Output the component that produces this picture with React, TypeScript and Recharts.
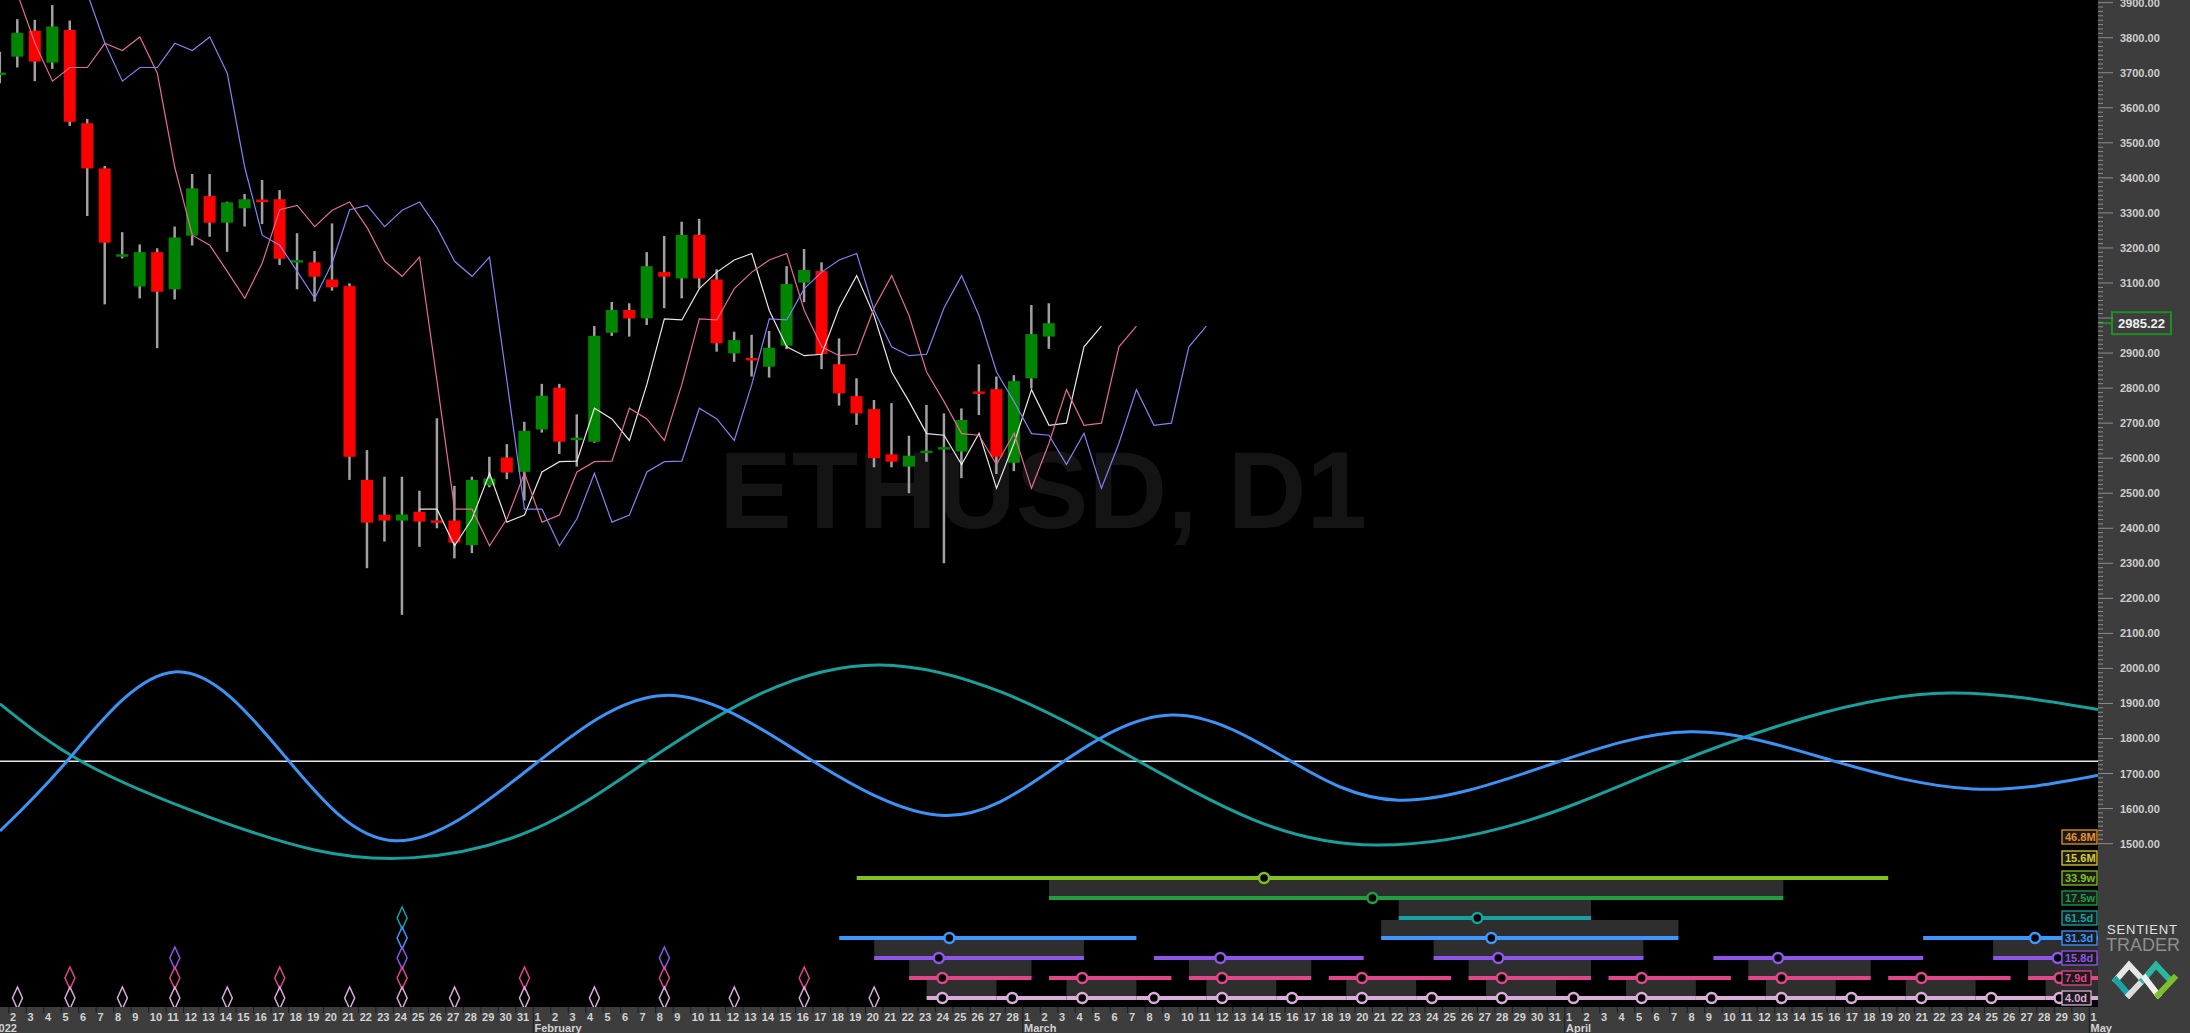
import React from "react";
import {
  Bar,
  ComposedChart,
  Line,
  ReferenceArea,
  ReferenceDot,
  ReferenceLine,
  Scatter,
  XAxis,
  YAxis,
} from "recharts";

const WIDTH = 2190;
const HEIGHT = 1033;
const AXIS_W = 92;
const AXIS_H = 26;
const PLOT_W = WIDTH - AXIS_W;
const PLOT_H = HEIGHT - AXIS_H;
const PRICE_TOP = 3907.6;
const PRICE_BOTTOM = 1033.7;
const LAST_DAY = 120;
const PANEL = "#3d3d3d";
const FONT = "'Liberation Sans', Arial, sans-serif";

// day 0 = 1 January 2022
const START = Date.UTC(2022, 0, 1);
const MONTH_NAMES = ["January", "February", "March", "April", "May", "June"];

// ETHUSD daily candles, 1 Jan .. 2 Mar 2022
const opens = [3694, 3746, 3820, 3729, 3822, 3556, 3427, 3177, 3090, 3188, 3082, 3235, 3348, 3272, 3313, 3336, 3339, 3160, 3159, 3110,
  3091, 2538, 2438, 2422, 2447, 2421, 2422, 2352, 2523, 2602, 2561, 2682, 2801, 2653, 2647, 2958, 3023, 2999, 3131, 3113,
  3237, 3110, 2899, 2885, 2861, 2921, 3101, 3134, 2868, 2777, 2740, 2611, 2576, 2616, 2626, 2619, 2789, 2797, 2587, 2828, 2947];
const highs = [3760, 3853, 3851, 3893, 3849, 3568, 3434, 3245, 3210, 3199, 3261, 3411, 3411, 3332, 3354, 3394, 3365, 3242, 3191, 3270,
  3099, 2623, 2547, 2547, 2507, 2714, 2521, 2547, 2604, 2640, 2704, 2812, 2812, 2725, 2977, 3046, 3042, 3188, 3234, 3275,
  3283, 3139, 2961, 2952, 2963, 3148, 3197, 3159, 2942, 2828, 2766, 2757, 2664, 2752, 2728, 2742, 2868, 2833, 2837, 3037, 3042];
const lows = [3670, 3715, 3676, 3711, 3548, 3291, 3039, 3170, 3056, 2914, 3053, 3207, 3232, 3189, 3261, 3268, 3151, 3082, 3047, 3078,
  2538, 2286, 2362, 2153, 2347, 2400, 2314, 2329, 2517, 2540, 2479, 2673, 2612, 2576, 2644, 2949, 2947, 2980, 3028, 3056,
  3085, 2904, 2875, 2833, 2830, 2911, 3045, 2854, 2750, 2695, 2574, 2574, 2500, 2590, 2300, 2543, 2723, 2555, 2563, 2799, 2912];
const closes = [3700, 3814, 3732, 3832, 3560, 3427, 3215, 3180, 3188, 3075, 3230, 3370, 3272, 3330, 3339, 3333, 3169, 3163, 3118, 3088,
  2604, 2416, 2422, 2439, 2419, 2417, 2359, 2538, 2542, 2559, 2678, 2778, 2647, 2657, 2949, 3023, 2999, 3148, 3118, 3237,
  3113, 2928, 2937, 2880, 2915, 3097, 3137, 2897, 2785, 2728, 2600, 2590, 2607, 2620, 2630, 2709, 2785, 2604, 2820, 2954, 2985.22];
// median price of 23..31 Dec 2021, used by the displaced lines
const priorMedians = [4040, 4060, 4070, 4050, 4020, 3925, 3784, 3676, 3715];

// displaced median lines: shift in days, first day drawn
const fldShifts = [3, 5, 9];
const fldStarts = [24, 0, 0];
const fldColors = ["#ece4ec", "#e46c90", "#8282f2"];

// composite cycle waves
const blueWaveDays = [0, 4, 10, 16.3, 22.6, 30.3, 38, 46, 54, 60.5, 67, 73.5, 80, 88.4, 96.7, 104.8, 112.8, 120];
const blueWaveValues = [1536, 1745, 1990, 1749, 1508, 1715, 1923, 1751, 1580, 1723, 1867, 1745, 1624, 1721, 1819, 1737, 1656, 1695];
const tealWaveDays = [0, 5, 12, 18, 23.7, 30.5, 37, 43.6, 50.3, 57.4, 64.5, 71.6, 78.7, 87, 95, 103.3, 111.5, 120];
const tealWaveValues = [1899, 1725, 1575, 1482, 1460, 1540, 1735, 1930, 2010, 1930, 1753, 1570, 1496, 1560, 1713, 1860, 1930, 1883];
const levelLine = 1735;

// cycle phasing panel
const cycleNames = ["46.8M", "15.6M", "33.9w", "17.5w", "61.5d", "31.3d", "15.8d", "7.9d", "4.0d"];
const cycleColors = ["#e8902a", "#dccb2c", "#80c21f", "#1f9e42", "#14a3a3", "#3d97ff", "#8d55e8", "#e0468a", "#d9acd9"];
const cycleRows = [837, 858, 878, 898, 918, 938, 958, 978, 998];

// [from day, to day, trough day, shaded]
const phases: Record<string, number[][]> = {
  "33.9w": [[49, 108, 72.3, 0]],
  "17.5w": [[60, 102, 78.5, 1]],
  "61.5d": [[80, 91, 84.5, 1]],
  "31.3d": [[48, 65, 54.3, 0], [79, 96, 85.3, 1], [110, 120, 116.4, 0]],
  "15.8d": [[50, 62, 53.7, 1], [66, 78, 69.8, 0], [82, 94, 85.7, 1], [98, 110, 101.7, 0], [114, 126, 117.7, 1]],
  "7.9d": [[52, 59, 53.9, 1], [60, 67, 61.9, 0], [68, 75, 69.9, 1], [76, 83, 77.9, 0], [84, 91, 85.9, 1], [92, 99, 93.9, 0],
    [100, 107, 101.9, 1], [108, 115, 109.9, 0], [116, 123, 117.8, 1]],
  "4.0d": [[53, 57, 53.9, 1], [57, 61, 57.9, 0], [61, 65, 61.9, 1], [65, 69, 66, 0], [69, 73, 69.9, 1], [73, 77, 73.9, 0],
    [77, 81, 77.9, 1], [81, 85, 81.9, 0], [85, 89, 85.9, 1], [89, 93, 90, 0], [93, 97, 93.9, 1], [97, 101, 97.9, 0],
    [101, 105, 101.9, 1], [105, 109, 105.9, 0], [109, 113, 109.9, 1], [113, 117, 113.9, 0], [117, 121, 117.8, 1]],
};

// past troughs (diamonds)
const pastTroughs: Record<string, number[]> = {
  "4.0d": [1, 4, 7, 10, 13, 16, 20, 23, 26, 30, 34, 38, 42, 46, 50],
  "7.9d": [4, 10, 16, 23, 30, 38, 46],
  "15.8d": [10, 23, 38],
  "31.3d": [23],
  "61.5d": [23],
};

const candles = opens.map((open, i) => ({ day: i, open, high: highs[i], low: lows[i], close: closes[i] }));
const lastClose = closes[closes.length - 1];

const median = (k: number) => (k < 0 ? priorMedians[k + priorMedians.length] : (highs[k] + lows[k]) / 2);

const fldData = fldShifts.map((shift, i) => {
  const pts = [];
  for (let d = fldStarts[i]; d <= candles.length - 1 + shift; d++) pts.push({ day: d, value: median(d - shift) });
  return pts;
});

const blueWave = blueWaveDays.map((day, i) => ({ day, value: blueWaveValues[i] }));
const tealWave = tealWaveDays.map((day, i) => ({ day, value: tealWaveValues[i] }));

// pixel row of the phasing panel -> value on the price scale
const rowValue = (py: number) => PRICE_TOP - (py / PLOT_H) * (PRICE_TOP - PRICE_BOTTOM);

const dayTicks = Array.from({ length: LAST_DAY + 1 }, (_, i) => i);
const priceTicks: number[] = [];
for (let v = 1500; v <= 3900; v += 12.5) priceTicks.push(v);

const Candle = (props: any) => {
  const { x, y, width, height, payload } = props;
  if (!payload || y == null) return null;
  const { open, high, low, close } = payload;
  const cx = x + width / 2;
  const yHigh = Math.min(y, y + height);
  const yLow = Math.max(y, y + height);
  const k = high === low ? 0 : (yLow - yHigh) / (high - low);
  const yO = yHigh + (high - open) * k;
  const yC = yHigh + (high - close) * k;
  const up = close >= open;
  let top = Math.min(yO, yC);
  let h = Math.abs(yC - yO);
  if (h < 2.5) {
    top = (yO + yC) / 2 - 1.25;
    h = 2.5;
  }
  return (
    <g>
      <line x1={cx} x2={cx} y1={yHigh} y2={yLow} stroke="#a0a0a0" strokeWidth={2.5} />
      <rect x={cx - 6} y={top} width={12} height={h} fill={up ? "#008600" : "#ff0000"} />
    </g>
  );
};

const Diamond = (props: any) => {
  const { cx, cy, color } = props;
  if (cx == null) return null;
  return (
    <path
      d={`M${cx},${cy - 11} L${cx + 5},${cy} L${cx},${cy + 11} L${cx - 5},${cy} Z`}
      fill="none"
      stroke={color}
      strokeWidth={1.5}
    />
  );
};

const DateTick = (props: any) => {
  const { x, payload } = props;
  const day = payload.value as number;
  const date = new Date(START + day * 86400000);
  const dom = date.getUTCDate();
  const month = date.getUTCMonth();
  const monthLabel = dom === 1 ? (month === 0 ? String(date.getUTCFullYear()) : MONTH_NAMES[month]) : null;
  const tx = x - 8.7;
  return (
    <g>
      <line x1={tx} x2={tx} y1={PLOT_H} y2={monthLabel ? HEIGHT : PLOT_H + 6} stroke="#1c1c1c" strokeWidth={1} />
      <text x={x - 7.5} y={1021} fill="#d2d2d2" fontSize={11} fontWeight="bold" fontFamily={FONT}>
        {dom}
      </text>
      {monthLabel && (
        <text x={x - 7.5} y={1032} fill="#d2d2d2" fontSize={11} fontWeight="bold" fontFamily={FONT}>
          {monthLabel}
        </text>
      )}
    </g>
  );
};

const PriceTick = (props: any) => {
  const { y, payload } = props;
  const v = payload.value as number;
  const major = v % 100 === 0;
  // the current price tag covers the nearest label
  const covered = Math.abs(v - lastClose) < 40;
  return (
    <g>
      <line x1={PLOT_W} x2={PLOT_W + (major ? 15 : 5)} y1={y} y2={y} stroke="#8c8c8c" strokeWidth={1} />
      {major && !covered && (
        <text x={2120} y={y + 4} fill="#cfcfcf" fontSize={11} fontWeight="bold" fontFamily={FONT}>
          {v.toFixed(2)}
        </text>
      )}
    </g>
  );
};

const PriceTag = (props: any) => {
  const vb = props.viewBox;
  if (!vb) return null;
  const y = vb.y;
  const x0 = vb.x + vb.width;
  return (
    <g>
      <line x1={x0} x2={x0 + 14} y1={y} y2={y} stroke="#1f8f1f" strokeWidth={2} />
      <rect x={x0 + 14} y={y - 11} width={59} height={22} fill={PANEL} stroke="#1f8f1f" strokeWidth={2} />
      <text x={x0 + 43.5} y={y + 5} textAnchor="middle" fill="#f0f0f0" fontSize={13} fontWeight="bold" fontFamily={FONT}>
        {lastClose.toFixed(2)}
      </text>
    </g>
  );
};

const Logo = () => (
  <g>
    <text x={2107} y={934} fill="#e2e2e2" fontSize={13} letterSpacing={0.8} fontFamily={FONT}>
      SENTIENT
    </text>
    <text x={2106} y={951} fill="#8e8e8e" fontSize={18} fontFamily={FONT}>
      TRADER
    </text>
    <g strokeWidth={6} fill="none" strokeLinecap="square">
      <path d="M2116,980 L2129,965 L2143,980" stroke="#e6e6e6" />
      <path d="M2116,980 L2129,995" stroke="#1aa3a3" />
      <path d="M2129,995 L2145,978" stroke="#dcdcdc" />
      <path d="M2143,980 L2156,965 L2170,980" stroke="#2bb6a0" />
      <path d="M2145,978 L2158,995" stroke="#f0f0f0" />
      <path d="M2158,995 L2174,978" stroke="#7dc02a" />
    </g>
  </g>
);

export default function App() {
  return (
    <div style={{ position: "relative", width: WIDTH, height: HEIGHT, background: "#000", overflow: "hidden" }}>
      <style>{`html,body{margin:0;padding:0;background:#000;overflow:hidden}`}</style>
      <svg width={WIDTH} height={HEIGHT} style={{ position: "absolute", left: 0, top: 0 }}>
        <rect x={0} y={0} width={WIDTH} height={HEIGHT} fill="#000" />
        <rect x={PLOT_W} y={0} width={AXIS_W} height={HEIGHT} fill={PANEL} />
        <rect x={0} y={PLOT_H} width={WIDTH} height={AXIS_H} fill={PANEL} />
        <text x={719} y={528} fill="#141414" fontSize={109} fontWeight="bold" fontFamily={FONT}>
          ETHUSD, D1
        </text>
      </svg>
      <div style={{ position: "absolute", left: 0, top: 0 }}>
        <ComposedChart width={WIDTH} height={HEIGHT} data={candles} margin={{ top: 0, right: 0, bottom: 0, left: 0 }}>
          <XAxis
            dataKey="day"
            type="number"
            domain={[0, LAST_DAY]}
            allowDataOverflow
            ticks={dayTicks}
            interval={0}
            height={AXIS_H}
            axisLine={false}
            tickLine={false}
            tick={(p: any) => <DateTick {...p} />}
          />
          <YAxis
            orientation="right"
            type="number"
            width={AXIS_W}
            domain={[PRICE_BOTTOM, PRICE_TOP]}
            allowDataOverflow
            ticks={priceTicks}
            interval={0}
            axisLine={false}
            tickLine={false}
            tick={(p: any) => <PriceTick {...p} />}
          />
          <Bar
            dataKey={(d: any) => [d.low, d.high]}
            barSize={13}
            shape={(p: any) => <Candle {...p} />}
            isAnimationActive={false}
          />
          {fldData.map((pts, i) => (
            <Line
              key={`fld-${i}`}
              data={pts}
              dataKey="value"
              type="linear"
              stroke={fldColors[i]}
              strokeWidth={1.2}
              dot={false}
              activeDot={false}
              isAnimationActive={false}
            />
          ))}
          <ReferenceLine y={levelLine} stroke="#e8e8e8" strokeWidth={1.3} />
          <Line data={tealWave} dataKey="value" type="natural" stroke="#17a09c" strokeWidth={3} dot={false} activeDot={false} isAnimationActive={false} />
          <Line data={blueWave} dataKey="value" type="natural" stroke="#3b93f5" strokeWidth={3} dot={false} activeDot={false} isAnimationActive={false} />

          {cycleNames.map((name, ci) =>
            (phases[name] || [])
              .filter((s) => s[3] === 1)
              .map((s, j) => (
                <ReferenceArea
                  key={`box-${name}-${j}`}
                  x1={s[0]}
                  x2={s[1]}
                  y1={rowValue(cycleRows[ci - 1] + 2)}
                  y2={rowValue(cycleRows[ci])}
                  fill="#2e2e2e"
                  fillOpacity={1}
                  stroke="none"
                  ifOverflow="hidden"
                />
              ))
          )}
          {cycleNames.map((name, ci) =>
            (phases[name] || []).map((s, j) => (
              <ReferenceLine
                key={`seg-${name}-${j}`}
                segment={[
                  { x: s[0], y: rowValue(cycleRows[ci]) },
                  { x: s[1], y: rowValue(cycleRows[ci]) },
                ]}
                stroke={cycleColors[ci]}
                strokeWidth={4}
                ifOverflow="hidden"
              />
            ))
          )}
          {cycleNames.map((name, ci) =>
            (phases[name] || []).map((s, j) => (
              <ReferenceDot
                key={`dot-${name}-${j}`}
                x={s[2]}
                y={rowValue(cycleRows[ci])}
                r={5}
                fill="#000"
                stroke={cycleColors[ci]}
                strokeWidth={2.5}
                ifOverflow="visible"
              />
            ))
          )}
          {cycleNames.map((name, ci) =>
            pastTroughs[name] ? (
              <Scatter
                key={`dia-${name}`}
                data={pastTroughs[name].map((day) => ({ day, value: rowValue(cycleRows[ci]) }))}
                dataKey="value"
                shape={(p: any) => <Diamond {...p} color={cycleColors[ci]} />}
                isAnimationActive={false}
              />
            ) : null
          )}
          <ReferenceLine y={lastClose} stroke="none" label={(p: any) => <PriceTag {...p} />} />
        </ComposedChart>
      </div>
      <svg width={WIDTH} height={HEIGHT} style={{ position: "absolute", left: 0, top: 0, pointerEvents: "none" }}>
        {cycleNames.map((name, ci) => {
          const w = name.length >= 5 ? 35 : 29;
          return (
            <g key={`lab-${name}`}>
              <rect x={2062} y={cycleRows[ci] - 7} width={w} height={14} fill="#1b1b1b" stroke={cycleColors[ci]} strokeWidth={1.3} />
              <text x={2065} y={cycleRows[ci] + 4} fill={cycleColors[ci]} fontSize={11} fontWeight="bold" fontFamily={FONT}>
                {name}
              </text>
            </g>
          );
        })}
        <Logo />
      </svg>
    </div>
  );
}
